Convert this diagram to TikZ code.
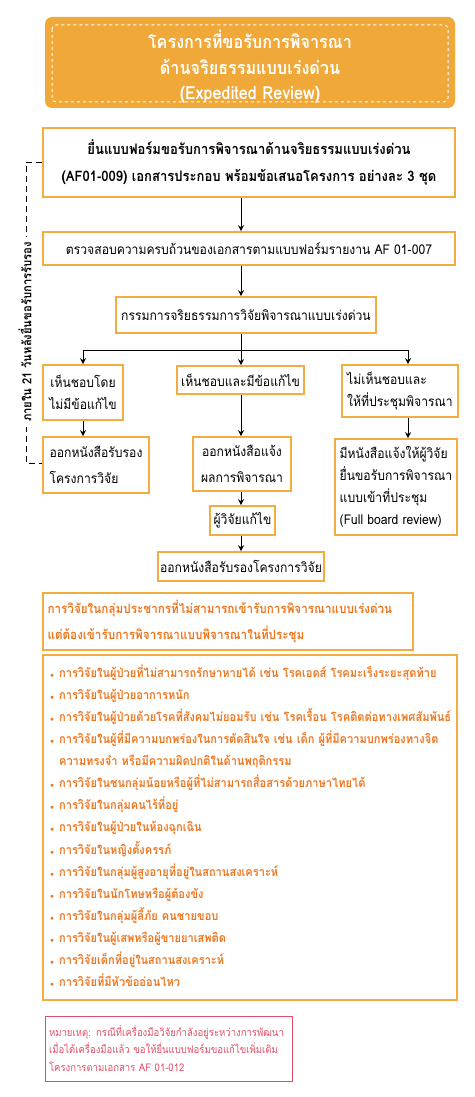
\documentclass[tikz,border=0pt]{standalone}
\usepackage{fontspec}
\setmainfont[Script=Thai,FakeStretch=0.9]{Loma}
\usetikzlibrary{arrows.meta,positioning}

\definecolor{gold}{RGB}{240,168,56}
\definecolor{boxline}{RGB}{242,172,64}
\definecolor{orangetext}{RGB}{238,118,30}
\definecolor{notered}{RGB}{226,78,102}

\tikzset{
  box/.style={draw=boxline, line width=1.6pt, inner sep=0pt,
    font=\fontsize{13.5}{22}\selectfont},
  arr/.style={-{Stealth[length=6pt,width=6pt]}, line width=1pt},
  bracket/.style={dashed, dash pattern=on 6pt off 4pt, line width=1pt},
}
\newcommand{\dotitem}{{\scriptsize$\bullet$}}

\begin{document}
\begin{tikzpicture}[x=1pt,y=-1pt]
    \useasboundingbox (0,0) rectangle (474,1097);
    % title
    \node[fill=gold, rounded corners=7pt, minimum width=410pt, minimum height=91pt] (title) at (250,62.5) {};
    \draw[white, line width=1pt, dashed, rounded corners=4pt] (52,25) rectangle (448,102);
    \node[white, font=\fontsize{18}{25.5}\selectfont\bfseries, align=center] (titletext) at (250,67)
        {โครงการที่ขอรับการพิจารณา\\ด้านจริยธรรมแบบเร่งด่วน\\(Expedited Review)};
    % steps
    \node[box, minimum width=412pt, minimum height=69pt, align=center, font=\fontsize{14.5}{27}\selectfont\bfseries] (b1) at (249,162.5)
        {ยื่นแบบฟอร์มขอรับการพิจารณาด้านจริยธรรมแบบเร่งด่วน\\(AF01-009) เอกสารประกอบ พร้อมข้อเสนอโครงการ อย่างละ 3 ชุด};
    \node[box, minimum width=412pt, minimum height=33pt] (b2) at (249,248.5)
        {ตรวจสอบความครบถ้วนของเอกสารตามแบบฟอร์มรายงาน AF 01-007};
    \node[box, minimum width=260pt, minimum height=36pt] (b3) at (246,315)
        {กรรมการจริยธรรมการวิจัยพิจารณาแบบเร่งด่วน};
    \node[box, minimum width=80pt, minimum height=55pt, align=center] (b4) at (83,392.5)
        {เห็นชอบโดย\\ไม่มีข้อแก้ไข};
    \node[box, minimum width=127pt, minimum height=28pt] (b5) at (240.5,380)
        {เห็นชอบและมีข้อแก้ไข};
    \node[box, minimum width=116pt, minimum height=52pt, align=left] (b6) at (400,391)
        {ไม่เห็นชอบและ\\ให้ที่ประชุมพิจารณา};
    \node[box, minimum width=106pt, minimum height=56pt, align=left, font=\fontsize{13.5}{26}\selectfont] (b7) at (96,465)
        {ออกหนังสือรับรอง\\โครงการวิจัย};
    \node[box, minimum width=98pt, minimum height=54pt, align=center, font=\fontsize{13.5}{26}\selectfont] (b8) at (242,464)
        {ออกหนังสือแจ้ง\\ผลการพิจารณา};
    \node[box, minimum width=65pt, minimum height=29pt] (b9) at (242.5,520.5)
        {ผู้วิจัยแก้ไข};
    \node[box, minimum width=166pt, minimum height=29pt] (b10) at (241,566.5)
        {ออกหนังสือรับรองโครงการวิจัย};
    \node[box, minimum width=122pt, minimum height=96pt, align=left] (b11) at (396,487)
        {มีหนังสือแจ้งให้ผู้วิจัย\\ยื่นขอรับการพิจารณา\\แบบเข้าที่ประชุม\\(Full board review)};
    % arrows
    \coordinate (split) at (241,350);
    \coordinate (rt) at (408,350);
    \draw[arr] (b1.south -| split) -- (b2.north -| split);
    \draw[arr] (b2.south -| split) -- (b3.north -| split);
    \draw[line width=1pt] (b3.south -| split) -- (split);
    \draw[line width=1pt] (b4.north |- split) -- (rt);
    \draw[arr] (b4.north |- split) -- (b4.north);
    \draw[arr] (split) -- (b5.north -| split);
    \draw[arr] (rt) -- (b6.north -| rt);
    \draw[arr] (b4.south) -- (b7.north -| b4.south);
    \draw[arr] (b5.south -| split) -- (b8.north -| split);
    \draw[arr] (b8.south -| split) -- (b9.north -| split);
    \draw[arr] (b9.south -| split) -- (b10.north -| split);
    \draw[arr] (b6.south -| rt) -- (b11.north -| rt);
    % side bracket
    \coordinate (side) at (26,0);
    \draw[bracket] (b1.west) -- (b1.west -| side) -- ([yshift=2pt]b7.west -| side) -- ([yshift=2pt]b7.west);
    \node[fill=white, rotate=90, inner sep=5pt, font=\fontsize{12.5}{16}\selectfont\bfseries] (days) at (25,332)
        {ภายใน 21 วันหลังยื่นขอรับการรับรอง};
    % groups needing full board
    \node[box, minimum width=370pt, minimum height=57pt, text=orangetext, align=left, text width=361pt,
        font=\fontsize{13}{26}\selectfont\bfseries] (warn) at (228,621.5)
        {การวิจัยในกลุ่มประชากรที่ไม่สามารถเข้ารับการพิจารณาแบบเร่งด่วน\\แต่ต้องเข้ารับการพิจารณาแบบพิจารณาในที่ประชุม};
    \node[box, minimum width=414pt, minimum height=345pt, text=orangetext, align=left, text width=400pt,
        font=\fontsize{12.3}{22.1}\selectfont\bfseries] (groups) at (250,827.5)
        {\begin{tabular}{@{}l@{\hspace{5pt}}l@{}}
        \dotitem & การวิจัยในผู้ป่วยที่ไม่สามารถรักษาหายได้ เช่น โรคเอดส์ โรคมะเร็งระยะสุดท้าย\\
        \dotitem & การวิจัยในผู้ป่วยอาการหนัก\\
        \dotitem & การวิจัยในผู้ป่วยด้วยโรคที่สังคมไม่ยอมรับ เช่น โรคเรื้อน โรคติดต่อทางเพศสัมพันธ์\\
        \dotitem & การวิจัยในผู้ที่มีความบกพร่องในการตัดสินใจ เช่น เด็ก ผู้ที่มีความบกพร่องทางจิต\\
         & ความทรงจำ หรือมีความผิดปกติในด้านพฤติกรรม\\
        \dotitem & การวิจัยในชนกลุ่มน้อยหรือผู้ที่ไม่สามารถสื่อสารด้วยภาษาไทยได้\\
        \dotitem & การวิจัยในกลุ่มคนไร้ที่อยู่\\
        \dotitem & การวิจัยในผู้ป่วยในห้องฉุกเฉิน\\
        \dotitem & การวิจัยในหญิงตั้งครรภ์\\
        \dotitem & การวิจัยในกลุ่มผู้สูงอายุที่อยู่ในสถานสงเคราะห์\\
        \dotitem & การวิจัยในนักโทษหรือผู้ต้องขัง\\
        \dotitem & การวิจัยในกลุ่มผู้ลี้ภัย คนชายขอบ\\
        \dotitem & การวิจัยในผู้เสพหรือผู้ขายยาเสพติด\\
        \dotitem & การวิจัยเด็กที่อยู่ในสถานสงเคราะห์\\
        \dotitem & การวิจัยที่มีหัวข้ออ่อนไหว
        \end{tabular}};
    % note
    \node[draw=notered, line width=1pt, text=notered, minimum width=247pt, minimum height=65pt, align=left,
        text width=239pt, font=\fontsize{10.6}{17.5}\selectfont] (note) at (168.5,1048.5)
        {หมายเหตุ: กรณีที่เครื่องมือวิจัยกำลังอยู่ระหว่างการพัฒนา\\เมื่อได้เครื่องมือแล้ว ขอให้ยื่นแบบฟอร์มขอแก้ไขเพิ่มเติม\\โครงการตามเอกสาร AF 01-012};
\end{tikzpicture}
\end{document}
